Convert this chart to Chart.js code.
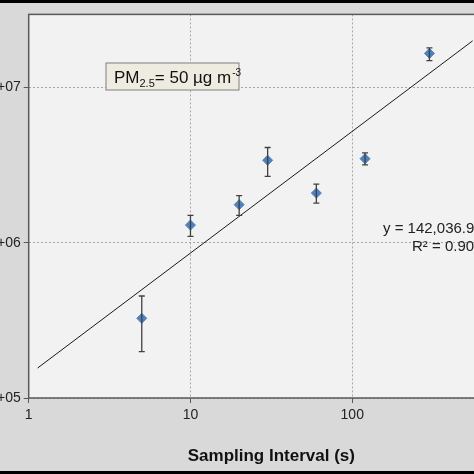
<!DOCTYPE html>
<html><head><meta charset="utf-8">
<script src="https://cdn.jsdelivr.net/npm/chart.js@4"></script>
<style>
html,body{margin:0;padding:0;background:#000;width:474px;height:474px;overflow:hidden}
#wrap{position:absolute;left:0;top:3px;width:474px;height:468px;background:#d9d9d9;overflow:hidden}
#c{position:absolute;left:-40px;top:0}
</style></head><body>
<div id="wrap"><canvas id="c" width="560" height="468"></canvas></div>
<script>
const intervals = [5, 10, 20, 30, 60, 120, 300];
const counts = [3.26e5, 1.30e6, 1.76e6, 3.40e6, 2.09e6, 3.48e6, 1.66e7];
const errLow = [1.99e5, 1.10e6, 1.50e6, 2.68e6, 1.80e6, 3.18e6, 1.49e7];
const errHigh = [4.54e5, 1.50e6, 2.01e6, 4.11e6, 2.39e6, 3.80e6, 1.80e7];
const trendX = [1.135, 555];
const trendY = [1.56e5, 2.0e7];
const xTicks = [1, 10, 100];
const yTicks = [1e5, 1e6, 1e7];
const eqText = 'y = 142,036.92x';
const r2Text = 'R² = 0.90';

const ctx = document.getElementById('c');
const font = '"Liberation Sans", Arial, sans-serif';

const extras = {
    id: 'extras',
    beforeDraw(chart) {
        const a = chart.chartArea, c = chart.ctx;
        c.save();
        c.fillStyle = '#f2f2f2';
        c.fillRect(a.left, a.top, a.right - a.left, a.bottom - a.top);
        c.restore();
    },
    afterDatasetsDraw(chart) {
        const c = chart.ctx, xs = chart.scales.x, ys = chart.scales.y;
        c.save();
        c.strokeStyle = '#404040';
        c.lineWidth = 1.3;
        intervals.forEach((v, i) => {
            const px = xs.getPixelForValue(v);
            const t = ys.getPixelForValue(errHigh[i]), b = ys.getPixelForValue(errLow[i]);
            c.beginPath();
            c.moveTo(px, t); c.lineTo(px, b);
            c.moveTo(px - 3, t); c.lineTo(px + 3, t);
            c.moveTo(px - 3, b); c.lineTo(px + 3, b);
            c.stroke();
        });
        c.restore();
    },
    afterDraw(chart) {
        const c = chart.ctx, a = chart.chartArea;
        c.save();
        c.strokeStyle = '#595959';
        c.lineWidth = 1.5;
        c.strokeRect(a.left, a.top, a.right - a.left, a.bottom - a.top);
        // label box
        c.fillStyle = '#eeece1';
        c.strokeStyle = '#7f7f7f';
        c.lineWidth = 1;
        c.fillRect(146, 60, 133, 27);
        c.strokeRect(146, 60, 133, 27);
        c.fillStyle = '#111';
        c.textBaseline = 'alphabetic';
        c.font = '17px ' + font;
        let x = 154;
        c.fillText('PM', x, 80); x += c.measureText('PM').width;
        c.font = '11px ' + font;
        c.fillText('2.5', x, 84); x += c.measureText('2.5').width;
        c.font = '17px ' + font;
        c.fillText('= 50 µg m', x, 80); x += c.measureText('= 50 µg m').width;
        c.font = '10px ' + font;
        c.fillText('-3', x + 1, 73);
        // equation
        c.font = '15px ' + font;
        c.fillStyle = '#222';
        c.fillText(eqText, 423, 230);
        c.fillText(r2Text, 452, 248);
        c.restore();
    }
};

new Chart(ctx, {
    type: 'scatter',
    data: {
        datasets: [
            {
                data: intervals.map((v, i) => ({x: v, y: counts[i]})),
                pointStyle: 'rectRot',
                pointRadius: 5,
                pointBackgroundColor: '#4f81bd',
                pointBorderColor: '#4f81bd',
                order: 1
            },
            {
                type: 'line',
                data: trendX.map((v, i) => ({x: v, y: trendY[i]})),
                borderColor: '#1a1a1a',
                borderWidth: 1,
                pointRadius: 0,
                order: 2
            }
        ]
    },
    options: {
        responsive: false,
        animation: false,
        layout: {padding: {top: 11, right: 5, left: 0, bottom: 0}},
        plugins: {legend: {display: false}, tooltip: {enabled: false}},
        scales: {
            x: {
                type: 'logarithmic', min: 1, max: 1000,
                afterBuildTicks: s => { s.ticks = xTicks.map(v => ({value: v})); },
                afterFit: s => { s.height = 73; },
                grid: {color: '#a6a6a6', drawTicks: true, tickLength: 5, tickColor: '#595959'},
                border: {display: false, dash: [2, 2]},
                ticks: {color: '#222', font: {size: 14, family: font}, padding: 4, maxRotation: 0,
                    callback: v => String(v)},
                title: {display: true, text: 'Sampling Interval (s)', color: '#111',
                    font: {size: 17, weight: 'bold', family: font}, padding: {top: 6}}
            },
            y: {
                type: 'logarithmic', min: 1e5, max: 2.96e7,
                afterBuildTicks: s => { s.ticks = yTicks.map(v => ({value: v})); },
                afterFit: s => { s.width = 68.7; },
                grid: {color: '#a6a6a6', tickLength: 5, tickColor: '#595959'},
                border: {display: false, dash: [2, 2]},
                ticks: {color: '#222', font: {size: 14, family: font}, padding: 3,
                    callback: v => '1.E+0' + Math.round(Math.log10(v))}
            }
        }
    },
    plugins: [extras]
});
</script>
</body></html>
